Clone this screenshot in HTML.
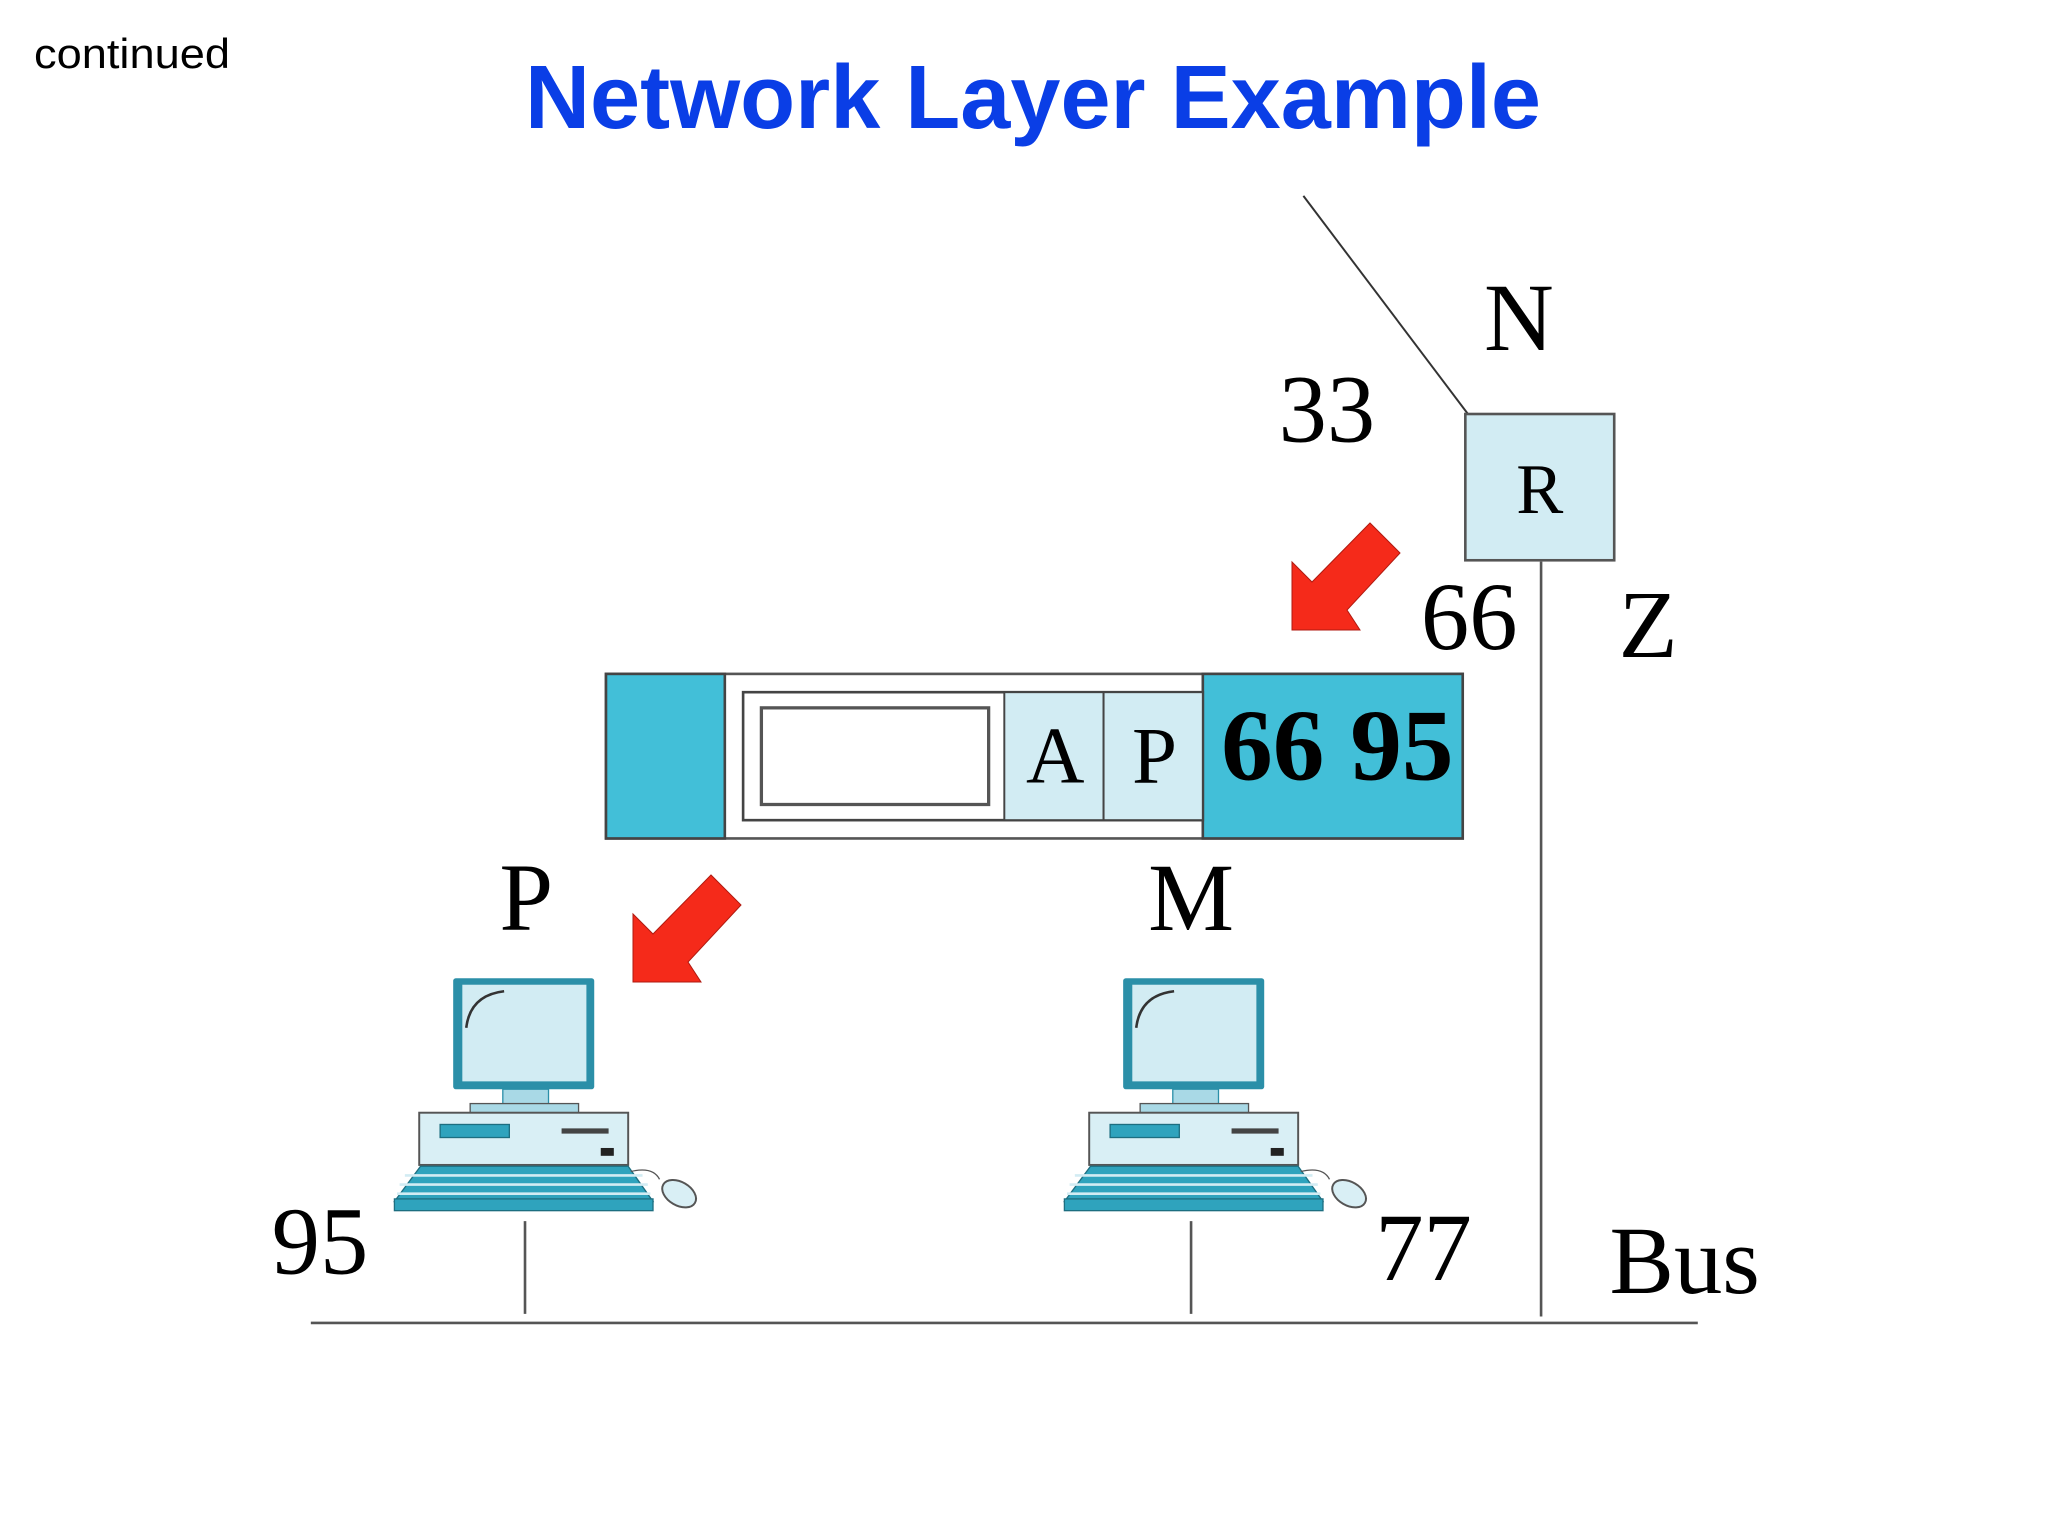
<!DOCTYPE html>
<html><head><meta charset="utf-8"><style>
html,body{margin:0;padding:0;background:#fff;width:2048px;height:1536px;overflow:hidden}
svg{display:block}
.t{font-family:"Liberation Serif",serif;fill:#000}
</style></head><body>
<svg width="2048" height="1536" viewBox="0 0 2048 1536" xmlns="http://www.w3.org/2000/svg">
<text x="34" y="68" font-family="Liberation Sans, sans-serif" font-size="42" textLength="196" lengthAdjust="spacingAndGlyphs">continued</text>
<text x="525" y="128" font-family="Liberation Sans, sans-serif" font-weight="bold" font-size="90" fill="#0a3ee6" textLength="1016" lengthAdjust="spacingAndGlyphs">Network Layer Example</text>

<g transform="scale(1.306)">
<!-- lines -->
<line x1="998" y1="150" x2="1124" y2="317" stroke="#333" stroke-width="1.5"/>
<line x1="1180" y1="430" x2="1180" y2="1008" stroke="#555" stroke-width="2"/>
<line x1="238" y1="1013" x2="1300" y2="1013" stroke="#555" stroke-width="2"/>
<line x1="402" y1="935" x2="402" y2="1006" stroke="#555" stroke-width="2"/>
<line x1="912" y1="935" x2="912" y2="1006" stroke="#555" stroke-width="2"/>

<!-- router -->
<rect x="1122" y="317" width="114" height="112" fill="#d2ecf3" stroke="#555" stroke-width="2"/>
<text class="t" x="1179" y="393" font-size="54" text-anchor="middle">R</text>

<!-- packet -->
<rect x="464" y="516" width="656" height="126" fill="#fff" stroke="#555" stroke-width="2"/>
<rect x="464" y="516" width="91" height="126" fill="#42bfd8" stroke="#444" stroke-width="2"/>
<rect x="921" y="516" width="199" height="126" fill="#42bfd8" stroke="#444" stroke-width="2"/>
<rect x="569" y="530" width="352" height="98" fill="#fff" stroke="#444" stroke-width="2"/>
<rect x="769" y="530" width="76" height="98" fill="#d2ecf3" stroke="#444" stroke-width="1.5"/>
<rect x="845" y="530" width="76" height="98" fill="#d2ecf3" stroke="#444" stroke-width="1.5"/>
<rect x="583" y="542" width="174" height="74" fill="#fff" stroke="#555" stroke-width="2.5"/>
<text class="t" x="808" y="599" font-size="62" text-anchor="middle">A</text>
<text class="t" x="884" y="599" font-size="62" text-anchor="middle">P</text>
<text class="t" x="1024" y="597" font-size="78" font-weight="bold" text-anchor="middle" textLength="178" lengthAdjust="spacingAndGlyphs">66 95</text>

<!-- labels -->
<text class="t" x="1163" y="268" font-size="74" text-anchor="middle">N</text>
<text class="t" x="1016" y="338" font-size="74" text-anchor="middle">33</text>
<text class="t" x="1125" y="497" font-size="74" text-anchor="middle">66</text>
<text class="t" x="1262" y="503" font-size="74" text-anchor="middle">Z</text>
<text class="t" x="403" y="712" font-size="74" text-anchor="middle">P</text>
<text class="t" x="912" y="712" font-size="74" text-anchor="middle">M</text>
<text class="t" x="245" y="975" font-size="74" text-anchor="middle">95</text>
<text class="t" x="1090" y="980" font-size="74" text-anchor="middle">77</text>
<text class="t" x="1290" y="990" font-size="74" text-anchor="middle">Bus</text>

<!-- computers -->
<defs>
<g id="pc">
<rect x="347" y="749" width="108" height="85" fill="#2b8fa8" rx="2"/>
<rect x="354" y="754" width="95" height="74" fill="#d2ecf3"/>
<path d="M357 787 Q360 762 386 759" fill="none" stroke="#333" stroke-width="2"/>
<rect x="385" y="834" width="35" height="12" fill="#a9d9e6" stroke="#2b8fa8"/>
<rect x="360" y="845" width="83" height="7" fill="#a9d9e6" stroke="#555"/>
<rect x="321" y="852" width="160" height="40" fill="#d9eff5" stroke="#555" stroke-width="1.5"/>
<rect x="337" y="861" width="53" height="10" fill="#2fa3bd" stroke="#1d6e80"/>
<rect x="430" y="864" width="36" height="4" fill="#444"/>
<rect x="460" y="879" width="10" height="6" fill="#222"/>
<path d="M302 920 L322 893 L481 893 L500 920 Z" fill="#2fa3bd" stroke="#1d6e80"/>
<path d="M310 900 H492 M306 907 H496 M304 914 H498" stroke="#d2ecf3" stroke-width="2"/>
<rect x="302" y="918" width="198" height="9" fill="#2fa3bd" stroke="#1d6e80"/>
<path d="M483 897 Q500 893 505 903" fill="none" stroke="#555"/>
<ellipse cx="520" cy="914" rx="14" ry="9" transform="rotate(30 520 914)" fill="#d9eff5" stroke="#555" stroke-width="1.5"/>
</g>
</defs>
<use href="#pc"/>
<use href="#pc" transform="translate(513 0)"/>
</g>

<!-- red arrows (2048 coords) -->
<polygon points="1292,630 1292,562 1312,582 1370,523 1400,553 1347,610 1360,630" fill="#f52a1a" stroke="#b01a10" stroke-width="1"/>
<polygon points="633,982 633,914 653,934 711,875 741,905 688,962 701,982" fill="#f52a1a" stroke="#b01a10" stroke-width="1"/>
</svg>
</body></html>
